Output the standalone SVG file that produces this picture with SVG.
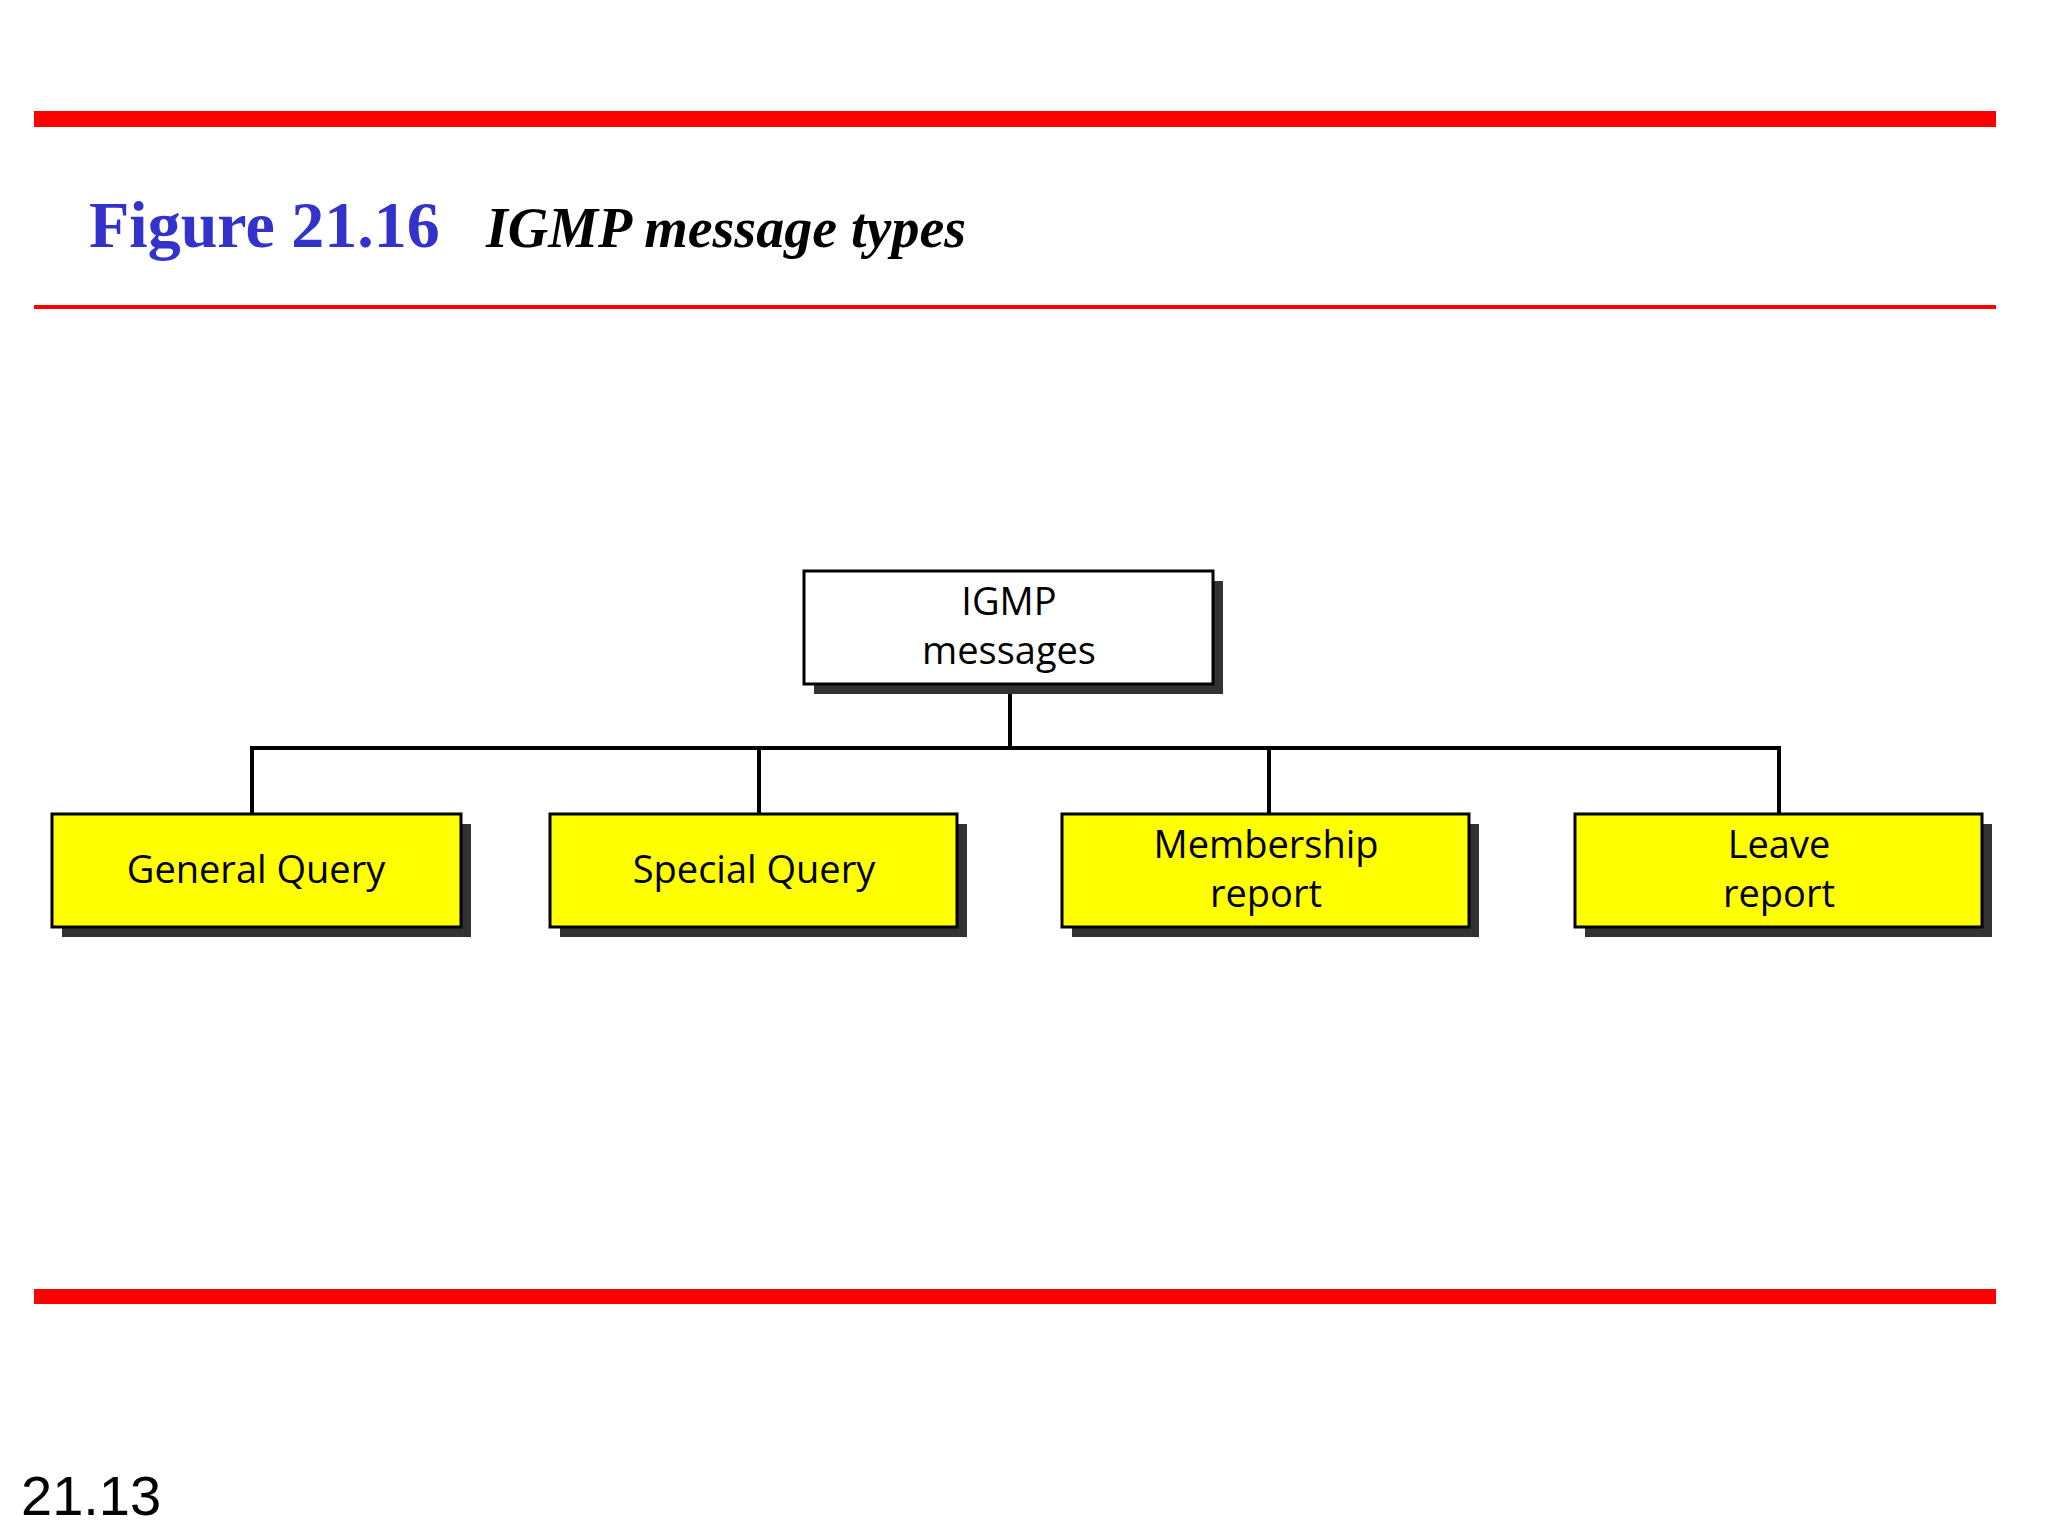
<svg xmlns="http://www.w3.org/2000/svg" width="2048" height="1536" viewBox="0 0 2048 1536">
<style>
.box{stroke:#000;stroke-width:3}
.sh{fill:#333}
.t{font-family:"Open Sans","DejaVu Sans",sans-serif;font-size:38px;text-anchor:middle;fill:#000}
</style>
<rect width="2048" height="1536" fill="#fff"/>
<rect x="34" y="111" width="1962" height="16" fill="#f00"/>
<rect x="34" y="305" width="1962" height="4" fill="#f00"/>
<rect x="34" y="1289" width="1962" height="15" fill="#f00"/>
<text x="89" y="247" font-family="Liberation Serif,serif" font-weight="bold" font-size="66" fill="#3333cc">Figure 21.16</text>
<text x="486" y="247" font-family="Liberation Serif,serif" font-weight="bold" font-style="italic" font-size="56" fill="#000">IGMP message types</text>
<text x="21" y="1515" font-family="Liberation Sans,sans-serif" font-size="56" fill="#000">21.13</text>
<g id="connectors" fill="none" stroke="#000" stroke-width="4">
<path d="M1010 684V748M252 814V748H1779V814M759 748V814M1269 748V814"/>
</g>
<g id="root"><rect class="sh" x="814" y="581" width="409" height="113"/><rect class="box" x="804" y="571" width="409" height="113" fill="#fff"/><text class="t" x="1009" y="615">IGMP</text><text class="t" x="1009" y="664">messages</text></g>
<g id="general"><rect class="sh" x="62" y="824" width="409" height="113"/><rect class="box" x="52" y="814" width="409" height="113" fill="#ff0"/><text class="t" x="256" y="883">General Query</text></g>
<g id="special"><rect class="sh" x="560" y="824" width="407" height="113"/><rect class="box" x="550" y="814" width="407" height="113" fill="#ff0"/><text class="t" x="754" y="883">Special Query</text></g>
<g id="membership"><rect class="sh" x="1072" y="824" width="407" height="113"/><rect class="box" x="1062" y="814" width="407" height="113" fill="#ff0"/><text class="t" x="1266" y="858">Membership</text><text class="t" x="1266" y="907">report</text></g>
<g id="leave"><rect class="sh" x="1585" y="824" width="407" height="113"/><rect class="box" x="1575" y="814" width="407" height="113" fill="#ff0"/><text class="t" x="1779" y="858">Leave</text><text class="t" x="1779" y="907">report</text></g>
</svg>
